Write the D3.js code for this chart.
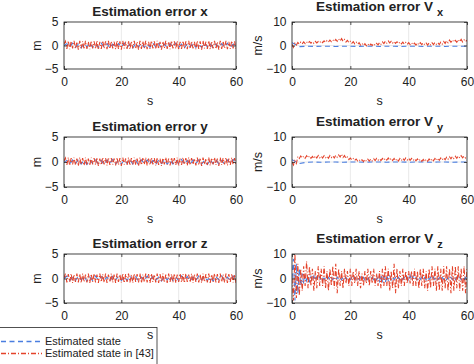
<!DOCTYPE html>
<html>
<head>
<meta charset="utf-8">
<script src="https://d3js.org/d3.v7.min.js"></script>
<style>
  body { margin: 0; background: white; }
  text { font-family: "Liberation Sans", Arial, sans-serif; fill: #222; }
  .tick line { stroke: #262626; stroke-width: 0.8; }
  .tick text { font-size: 12px; }
</style>
</head>
<body>
<svg id="chart"></svg>
<script>

// ---- data ----
var timeTicks = [0, 20, 40, 60];
var posTicks = [-5, 0, 5];
var velTicks = [-10, 0, 10];
var legendLabels = ["Estimated state", "Estimated state in [43]"];

// position errors, estimated state (blue dashed)
var estX = [0,0.4,-0.3,0.5,-0.4,0.3,-0.5,0.4,-0.3,0.5,-0.4,0.3,-0.4,0.5,-0.3,0.4,-0.5,0.3,-0.4,0.4,
  -0.3,0.5,-0.4,0.3,-0.5,0.4,-0.3,0.5,-0.4,0.3,-0.4,0.5,-0.3,0.4,-0.5,0.3,-0.4,0.4,-0.3,0.5,
  -0.4,0.3,-0.5,0.4,-0.3,0.5,-0.4,0.3,-0.4,0.5,-0.3,0.4,-0.5,0.3,-0.4,0.4,-0.3,0.5,-0.4,0.3,-0.4];
var estY = [0,0.3,-0.4,0.4,-0.3,0.5,-0.4,0.3,-0.5,0.4,-0.3,0.4,-0.4,0.3,-0.5,0.4,-0.3,0.5,-0.4,0.3,
  -0.4,0.4,-0.3,0.5,-0.4,0.3,-0.5,0.4,-0.3,0.4,-0.4,0.3,-0.5,0.4,-0.3,0.5,-0.4,0.3,-0.4,0.4,
  -0.3,0.5,-0.4,0.3,-0.5,0.4,-0.3,0.4,-0.4,0.3,-0.5,0.4,-0.3,0.5,-0.4,0.3,-0.4,0.4,-0.3,0.5,-0.4];
var estZ = [0,0.5,-0.4,0.3,-0.4,0.5,-0.3,0.4,-0.5,0.3,-0.4,0.5,-0.3,0.4,-0.4,0.3,-0.5,0.4,-0.3,0.5,
  -0.4,0.3,-0.4,0.5,-0.3,0.4,-0.5,0.3,-0.4,0.5,-0.3,0.4,-0.4,0.3,-0.5,0.4,-0.3,0.5,-0.4,0.3,
  -0.4,0.5,-0.3,0.4,-0.5,0.3,-0.4,0.5,-0.3,0.4,-0.4,0.3,-0.5,0.4,-0.3,0.5,-0.4,0.3,-0.4,0.5,-0.3];

// position errors, estimated state in [43] (red dash-dot)
var refX = [0.3,0.9,-0.7,1.0,-0.8,0.9,-0.6,1.0,-0.7,0.8,-0.9,1.0,-0.6,0.9,-0.8,1.0,-0.7,0.8,-0.8,1.0,
  -0.6,0.9,-0.7,1.0,-0.9,0.8,-0.7,1.0,-0.6,0.9,-0.8,1.0,-0.7,0.9,-0.6,0.8,-0.8,1.0,-0.7,0.9,
  -0.9,1.0,-0.6,0.8,-0.7,1.0,-0.8,0.9,-0.6,1.0,-0.7,0.8,-0.9,1.0,-0.7,0.9,-0.6,1.0,-0.8,0.8,
  -0.7,1.0,-0.6,0.9,-0.8,1.0,-0.7,0.8,-0.9,0.9,-0.6,1.0,-0.7,0.8,-0.8,1.0,-0.6,0.9,-0.7,1.0,
  -0.9,0.8,-0.7,1.0,-0.6,0.9,-0.8,1.0,-0.7,0.9,-0.6,0.8,-0.8,1.0,-0.7,0.9,-0.9,1.0,-0.6,0.8,
  -0.7,1.0,-0.8,0.9,-0.6,1.0,-0.7,0.8,-0.9,1.0,-0.7,0.9,-0.6,1.0,-0.8,0.8,-0.7,1.0,-0.6,0.9,-0.8];
var refY = [0.2,0.8,-0.6,0.9,-0.7,0.8,-0.5,0.9,-0.6,0.7,-0.8,0.9,-0.5,0.8,-0.7,0.9,-0.6,0.7,-0.7,0.9,
  -0.5,0.8,-0.6,0.9,-0.8,0.7,-0.6,0.9,-0.5,0.8,-0.7,0.9,-0.6,0.8,-0.5,0.7,-0.7,0.9,-0.6,0.8,
  -0.8,0.9,-0.5,0.7,-0.6,0.9,-0.7,0.8,-0.5,0.9,-0.6,0.7,-0.8,0.9,-0.6,0.8,-0.5,0.9,-0.7,0.7,
  -0.6,0.9,-0.5,0.8,-0.7,0.9,-0.6,0.7,-0.8,0.8,-0.5,0.9,-0.6,0.7,-0.7,0.9,-0.5,0.8,-0.6,0.9,
  -0.8,0.7,-0.6,0.9,-0.5,0.8,-0.7,0.9,-0.6,0.8,-0.5,0.7,-0.7,0.9,-0.6,0.8,-0.8,0.9,-0.5,0.7,
  -0.6,0.9,-0.7,0.8,-0.5,0.9,-0.6,0.7,-0.8,0.9,-0.6,0.8,-0.5,0.9,-0.7,0.7,-0.6,0.9,-0.5,0.8,-0.7];
var refZ = [0.1,1.0,-0.8,0.9,-0.7,1.0,-0.9,0.8,-0.7,1.0,-0.8,0.9,-0.9,1.0,-0.7,0.8,-0.8,1.0,-0.9,0.9,
  -0.7,1.0,-0.8,0.8,-0.9,1.0,-0.7,0.9,-0.8,1.0,-0.9,0.8,-0.7,1.0,-0.8,0.9,-0.9,1.0,-0.7,0.8,
  -0.8,1.0,-0.9,0.9,-0.7,1.0,-0.8,0.8,-0.9,1.0,-0.7,0.9,-0.8,1.0,-0.9,0.8,-0.7,1.0,-0.8,0.9,
  -0.9,1.0,-0.7,0.8,-0.8,1.0,-0.9,0.9,-0.7,1.0,-0.8,0.8,-0.9,1.0,-0.7,0.9,-0.8,1.0,-0.9,0.8,
  -0.7,1.0,-0.8,0.9,-0.9,1.0,-0.7,0.8,-0.8,1.0,-0.9,0.9,-0.7,1.0,-0.8,0.8,-0.9,1.0,-0.7,0.9,
  -0.8,1.0,-0.9,0.8,-0.7,1.0,-0.8,0.9,-0.9,1.0,-0.7,0.8,-0.8,1.0,-0.9,0.9,-0.7,1.0,-0.8,0.8,-0.9];

// velocity errors, estimated state
var estVx = [1.2,-0.5,-0.3,-0.4,-0.3,-0.3,-0.4,-0.3,-0.3,-0.4,-0.3,-0.3,-0.4,-0.3,-0.3,-0.4,-0.3,-0.3,-0.4,-0.3,-0.3,-0.4,-0.3,-0.3,-0.3];
var estVy = [0.9,-0.6,-0.1,0,-0.1,0,0,-0.1,0,0,-0.1,0,0,-0.1,0,0,-0.1,0,0,-0.1,0,0,-0.1,0,0];
var estVz = [0,8,-9,6,-6,4,-3,2,-2,1.5,-1,1,-1.2,0.8,-1,1,-0.8,0.6,-0.8,0.7,
  -0.6,0.5,-0.5,0.6,-0.4,0.5,-0.6,0.4,-0.5,0.5,-0.4,0.6,-0.5,0.4,-0.6,0.5,-0.4,0.5,-0.5,0.4,
  -0.5,0.5,-0.4,0.6,-0.5,0.4,-0.5,0.6,-0.4,0.5,-0.6,0.4,-0.5,0.5,-0.4,0.6,-0.5,0.4,-0.6,0.5,
  -1.2,1.4,-1.0,1.2,-1.5,1.3,-0.8,1.0,-0.6,0.5,-0.5,0.4,-0.6,0.5,-0.4,0.5,-0.5,0.4,-0.6,0.5,
  -1.0,1.2,-0.8,0.9,-0.5,0.4,-0.5,0.6,-0.4,0.5,-0.5,0.4,-0.6,0.5,-0.4,0.5,-0.5,0.6,-0.4,0.5,
  -0.5,0.4,-0.6,0.5,-0.4,0.5,-0.5,0.4,-0.6,0.5,-0.4,0.5,-0.5,0.6,-0.4,0.5,-0.5,0.4,-0.6,0.5,-0.4];

// velocity errors, estimated state in [43]
var refVx = [0.5,-0.8,1.0,0.2,1.3,0.6,1.4,0.7,1.5,0.8,1.6,0.9,1.7,1.0,1.6,0.9,1.8,1.1,1.7,1.2,
  1.9,1.2,2.0,1.3,2.1,1.5,2.3,1.6,2.4,1.7,2.6,1.8,2.8,1.9,2.9,1.8,2.6,1.5,2.2,1.2,
  1.8,0.9,1.6,0.7,1.4,0.5,1.2,0.2,0.9,0.0,0.8,-0.1,0.7,-0.2,0.6,0.0,0.8,0.1,0.9,0.3,
  1.2,0.5,1.5,0.8,1.8,1.0,1.9,1.1,1.8,1.0,1.7,0.9,1.6,0.8,1.5,0.7,1.4,0.6,1.3,0.5,
  1.2,0.4,1.1,0.3,1.0,0.2,1.1,0.3,1.2,0.4,1.1,0.3,1.0,0.2,1.1,0.3,1.2,0.4,1.3,0.5,
  1.2,0.4,1.4,0.6,1.7,0.9,2.0,1.2,2.3,1.4,2.4,1.5,2.2,1.4,2.5,1.6,2.6,1.5,2.4,1.6,2.3];
var refVy = [0.0,-1.2,0.5,-0.6,2.2,1.4,2.4,1.6,2.3,1.5,2.5,1.7,2.4,1.5,2.2,1.4,2.5,1.6,2.6,1.7,
  2.4,1.6,2.5,1.7,2.3,1.5,2.6,1.8,2.5,1.6,2.7,1.9,2.8,2.0,3.2,1.8,2.6,1.4,2.0,1.0,
  1.6,0.8,1.4,0.6,1.2,0.4,1.0,0.3,0.9,0.2,1.0,0.3,1.1,0.4,1.2,0.5,1.3,0.6,1.4,0.7,
  1.3,0.6,1.4,0.7,1.5,0.8,1.6,0.7,1.5,0.6,1.4,0.5,1.3,0.4,1.4,0.6,1.5,0.7,1.6,0.8,
  1.5,0.7,1.4,0.6,1.3,0.5,1.2,0.4,1.1,0.3,1.0,0.2,1.1,0.3,1.2,0.4,1.3,0.5,1.4,0.6,
  1.5,0.7,1.6,0.8,1.7,0.9,1.9,1.1,2.1,1.3,2.2,1.4,2.3,1.5,2.4,1.6,2.5,1.7,2.4,1.6,2.3];
var refVz = [0,-9,10,-8,6,-7,4,-5,5,-3,7,-4,5,-3,4,-5,3,-4,5,-3,
  4,-3,5,-4,3,-5,4,-3,5,-4,6,-6,4,-3,3,-4,4,-2,3,-3,
  4,-3,3,-2,4,-3,3,-4,2,-3,3,-2,4,-3,3,-2,4,-3,2,-3,
  3,-4,4,-3,5,-3,4,-5,3,-4,6,-6,4,-4,3,-3,4,-3,3,-2,
  3,-2,3,-3,4,-3,3,-4,4,-3,4,-4,3,-5,4,-4,5,-3,4,-5,
  5,-5,4,-5,5,-4,5,-5,4,-6,5,-5,5,-4,5,-5,4,-5,5,-6,4];

// ---- layout ----
var width = 474, height = 364;
var blue = "#4a7ee0", red = "#e4432b", ink = "#262626";
var cols = [{x0: 64, x1: 236, ylab: "m", labX: 41}, {x0: 292, x1: 467, ylab: "m/s", labX: 262}];
var rows = [{top: 22, bottom: 69}, {top: 137, bottom: 187}, {top: 254, bottom: 303}];

var panels = [
  {row: 0, col: 0, name: "x", sub: false, ticks: posTicks, est: estX, ref: refX},
  {row: 0, col: 1, name: "x", sub: true, ticks: velTicks, est: estVx, ref: refVx},
  {row: 1, col: 0, name: "y", sub: false, ticks: posTicks, est: estY, ref: refY},
  {row: 1, col: 1, name: "y", sub: true, ticks: velTicks, est: estVy, ref: refVy},
  {row: 2, col: 0, name: "z", sub: false, ticks: posTicks, est: estZ, ref: refZ},
  {row: 2, col: 1, name: "z", sub: true, ticks: velTicks, est: estVz, ref: refVz}
];

var svg = d3.select("#chart").attr("width", width).attr("height", height);
svg.append("rect").attr("width", width).attr("height", height).attr("fill", "white");

// series values are spread evenly over 0..60 s
function toPoints(vals) {
  var t = d3.scaleLinear().domain([0, vals.length - 1]).range([0, 60]);
  return vals.map(function(v, i) { return [t(i), v]; });
}

panels.forEach(function(p, k) {
  var c = cols[p.col], r = rows[p.row];
  var x = d3.scaleLinear().domain([0, 60]).range([c.x0, c.x1]);
  var y = d3.scaleLinear().domain(d3.extent(p.ticks)).range([r.bottom, r.top]);
  var g = svg.append("g");

  g.append("clipPath").attr("id", "clip" + k)
    .append("rect").attr("x", c.x0).attr("y", r.top)
    .attr("width", c.x1 - c.x0).attr("height", r.bottom - r.top);

  // grid
  g.selectAll(".gx").data(timeTicks).enter().append("line")
    .attr("x1", function(d) { return x(d); }).attr("x2", function(d) { return x(d); })
    .attr("y1", r.top).attr("y2", r.bottom)
    .attr("stroke", "#e3e3e3").attr("stroke-width", 0.8);
  g.selectAll(".gy").data(p.ticks).enter().append("line")
    .attr("y1", function(d) { return y(d); }).attr("y2", function(d) { return y(d); })
    .attr("x1", c.x0).attr("x2", c.x1)
    .attr("stroke", "#e3e3e3").attr("stroke-width", 0.8);

  var line = d3.line().x(function(d) { return x(d[0]); }).y(function(d) { return y(d[1]); });
  var plot = g.append("g").attr("clip-path", "url(#clip" + k + ")");
  plot.append("path").datum(toPoints(p.est)).attr("d", line)
    .attr("fill", "none").attr("stroke", blue).attr("stroke-width", 1.1)
    .attr("stroke-dasharray", "5,3.5");
  plot.append("path").datum(toPoints(p.ref)).attr("d", line)
    .attr("fill", "none").attr("stroke", red).attr("stroke-width", 1.1)
    .attr("stroke-dasharray", "5,2,1,2");

  // axes with inward ticks on all four sides
  var bx = g.append("g").attr("transform", "translate(0," + r.bottom + ")")
    .call(d3.axisBottom(x).tickValues(timeTicks).tickSize(-3).tickPadding(8.3));
  var tx = g.append("g").attr("transform", "translate(0," + r.top + ")")
    .call(d3.axisTop(x).tickValues(timeTicks).tickSize(-3).tickFormat(""));
  var ly = g.append("g").attr("transform", "translate(" + c.x0 + ",0)")
    .call(d3.axisLeft(y).tickValues(p.ticks).tickSize(-3).tickPadding(5.5));
  var ry = g.append("g").attr("transform", "translate(" + c.x1 + ",0)")
    .call(d3.axisRight(y).tickValues(p.ticks).tickSize(-3).tickFormat(""));
  [bx, tx, ly, ry].forEach(function(a) { a.select(".domain").remove(); a.attr("font-family", null).attr("font-size", null); });

  g.append("rect").attr("x", c.x0).attr("y", r.top)
    .attr("width", c.x1 - c.x0).attr("height", r.bottom - r.top)
    .attr("fill", "none").attr("stroke", ink).attr("stroke-width", 0.8);

  // title
  var cx = (c.x0 + c.x1) / 2;
  if (!p.sub) {
    g.append("text").attr("x", cx).attr("y", r.top - 6)
      .attr("text-anchor", "middle").attr("font-weight", "bold").attr("font-size", "13.5px")
      .text("Estimation error " + p.name);
  } else {
    var tt = g.append("text").attr("x", cx).attr("y", r.top - 11)
      .attr("text-anchor", "middle").attr("font-weight", "bold").attr("font-size", "13.5px");
    tt.append("tspan").text("Estimation error V");
    tt.append("tspan").attr("dx", 4).attr("dy", 5).attr("font-size", "11px").text(p.name);
  }

  // y label
  g.append("text").attr("transform", "translate(" + c.labX + "," + (r.top + r.bottom) / 2 + ") rotate(-90)")
    .attr("text-anchor", "middle").attr("font-size", "12.5px").text(c.ylab);
  p.cx = cx; p.xlabY = r.bottom + 36;
});

// legend
var leg = svg.append("g");
leg.append("rect").attr("x", -1).attr("y", 327.5).attr("width", 158).attr("height", 40)
  .attr("fill", "white").attr("stroke", ink).attr("stroke-width", 0.8);
var legStyles = [{color: blue, dash: "5,3.5", y: 341.5}, {color: red, dash: "5,2,1,2", y: 353.5}];
legendLabels.forEach(function(lab, i) {
  var s = legStyles[i];
  leg.append("line").attr("x1", 1).attr("x2", 42).attr("y1", s.y).attr("y2", s.y)
    .attr("stroke", s.color).attr("stroke-width", 1.6).attr("stroke-dasharray", s.dash);
  leg.append("text").attr("x", 45).attr("y", s.y + 3.5).attr("font-size", "11px").text(lab);
});

// x labels drawn last (the left bottom one sits over the legend box)
panels.forEach(function(p) {
  svg.append("text").attr("x", p.cx).attr("y", p.xlabY)
    .attr("text-anchor", "middle").attr("font-size", "12.5px").text("s");
});

</script>
</body>
</html>
